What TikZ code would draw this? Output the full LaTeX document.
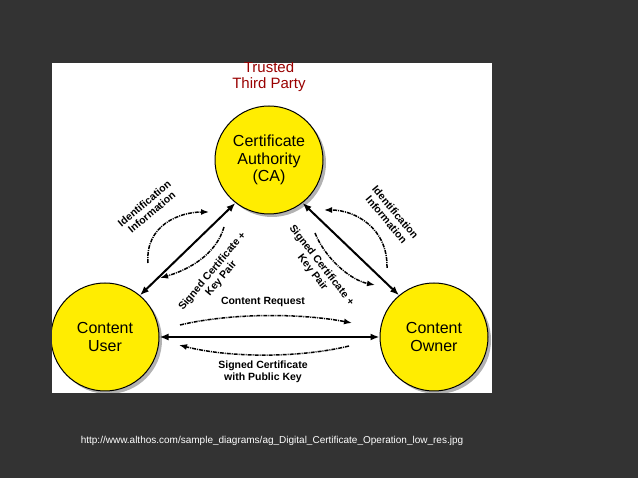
\documentclass[tikz,border=0pt]{standalone}
\usepackage{fontspec}
\setmainfont{Liberation Sans}
\usetikzlibrary{arrows.meta}
\begin{document}
\begin{tikzpicture}[x=1pt,y=-1pt,
  party/.style={circle,draw=black,line width=1pt,fill=yellow!95!orange,minimum size=108pt,inner sep=0pt,align=center,font=\fontsize{16}{17.5}\selectfont},
  shadow/.style={circle,fill=gray!60,minimum size=108pt,inner sep=0pt},
  main/.style={line width=2pt,{Latex[length=9pt,width=7pt]}-{Latex[length=9pt,width=7pt]}},
  flow/.style={line width=1.5pt,dash pattern=on 4pt off 1pt on 1pt off 1pt,-{Latex[length=8pt,width=6pt]}},
  lab/.style={font=\bfseries\fontsize{10.5}{11.5}\selectfont,align=center,inner sep=1pt}]
\fill[black!80] (0,0) rectangle (638,478);
\useasboundingbox (0,0) rectangle (638,478);
\begin{scope}
\clip (52,63) rectangle (492,393);
\fill[white] (52,63) rectangle (492,393);
\node[shadow] at (272,163) {};
\node[shadow] at (108,340) {};
\node[shadow] at (437,340) {};
\node[party] (ca) at (269,160) {Certificate\\Authority\\(CA)};
\node[party] (cu) at (105,337) {Content\\User};
\node[party] (co) at (434,337) {Content\\Owner};
\node[text=red!60!black,align=center,font=\fontsize{15}{16}\selectfont] (ttp) at (269,77) {Trusted\\Third Party};
\end{scope}
\coordinate (a1) at (148,263); \coordinate (a2) at (209,212);
\coordinate (b1) at (224,227); \coordinate (b2) at (160,278);
\coordinate (c1) at (387,268); \coordinate (c2) at (324,210);
\coordinate (d1) at (315,233); \coordinate (d2) at (375,285);
\coordinate (e1) at (180,325); \coordinate (e2) at (352,323);
\coordinate (f1) at (349,346); \coordinate (f2) at (179,345);
\draw[main] (cu.50) -- (ca.232);
\draw[main] (ca.308) -- (co.130);
\draw[main] (cu.east) -- (co.west);
\draw[flow] (a1) .. controls (145,225) and (180,212) .. (a2);
\draw[flow] (b1) .. controls (216,255) and (188,270) .. (b2);
\draw[flow] (c1) .. controls (388,228) and (355,210) .. (c2);
\draw[flow] (d1) .. controls (325,258) and (350,280) .. (d2);
\draw[flow] (e1) .. controls (230,313) and (300,313) .. (e2);
\draw[flow] (f1) .. controls (300,358) and (230,358) .. (f2);
\node[lab,rotate=40] (l1) at (148,208) {Identification\\Information};
\node[lab,rotate=50] (l2) at (217,275) {Signed Certificate +\\Key Pair};
\node[lab,rotate=-50] (l3) at (391,216) {Identification\\Information};
\node[lab,rotate=-52] (l4) at (317,269) {Signed Certificate +\\Key Pair};
\node[lab] (l5) at (263,302) {Content Request};
\node[lab] (l6) at (263,372) {Signed Certificate\\with Public Key};
\node[text=white,font=\fontsize{10}{12}\selectfont] (url) at (272,441) {http://www.althos.com/sample\_diagrams/ag\_Digital\_Certificate\_Operation\_low\_res.jpg};
\end{tikzpicture}
\end{document}
